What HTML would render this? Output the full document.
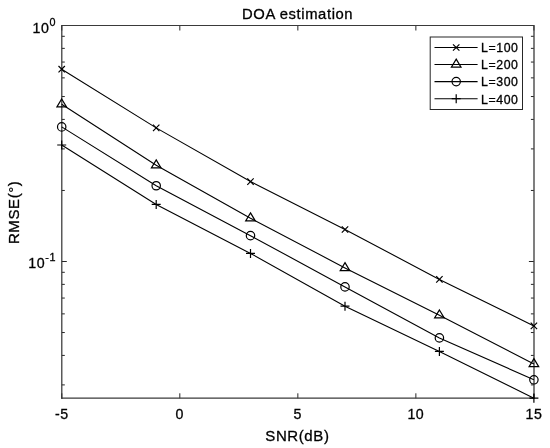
<!DOCTYPE html><html><head><meta charset="utf-8"><style>html,body{margin:0;padding:0;background:#fff;}svg{display:block;}text{font-family:"Liberation Sans",Arial,Helvetica,sans-serif;fill:#000;stroke:#000;stroke-width:0.3px;letter-spacing:0.6px;}</style></head><body>
<svg width="550" height="448" viewBox="0 0 550 448">
<rect x="0" y="0" width="550" height="448" fill="#fff"/>
<path d="M61.80 398.3V393.3M61.80 25.5V30.5M179.82 398.3V393.3M179.82 25.5V30.5M297.85 398.3V393.3M297.85 25.5V30.5M415.87 398.3V393.3M415.87 25.5V30.5M533.90 398.3V393.3M533.90 25.5V30.5M61.8 25.50H66.8M533.9 25.50H528.9M61.8 261.50H66.8M533.9 261.50H528.9M61.8 190.46H64.8M533.9 190.46H530.9M61.8 148.90H64.8M533.9 148.90H530.9M61.8 119.41H64.8M533.9 119.41H530.9M61.8 96.54H64.8M533.9 96.54H530.9M61.8 77.86H64.8M533.9 77.86H530.9M61.8 62.06H64.8M533.9 62.06H530.9M61.8 48.37H64.8M533.9 48.37H530.9M61.8 36.30H64.8M533.9 36.30H530.9M61.8 384.90H64.8M533.9 384.90H530.9M61.8 355.41H64.8M533.9 355.41H530.9M61.8 332.54H64.8M533.9 332.54H530.9M61.8 313.86H64.8M533.9 313.86H530.9M61.8 298.06H64.8M533.9 298.06H530.9M61.8 284.37H64.8M533.9 284.37H530.9M61.8 272.30H64.8M533.9 272.30H530.9" stroke="#262626" stroke-width="1" fill="none"/>
<path d="M61.8 25.5H534" stroke="#3a3a3a" stroke-width="1" fill="none"/>
<path d="M61.8 398.2H534" stroke="#3a3a3a" stroke-width="1.2" fill="none"/>
<path d="M61.8 25V399" stroke="#303030" stroke-width="1.2" fill="none"/>
<path d="M534 25V399" stroke="#3a3a3a" stroke-width="1.3" fill="none"/>
<polyline points="61.70,69.20 156.20,127.90 250.50,181.60 345.00,229.50 439.40,279.40 533.90,325.90" fill="none" stroke="#000" stroke-width="1.1"/>
<polyline points="61.70,104.30 156.20,165.20 250.50,218.20 345.00,267.90 439.40,315.30 533.90,364.00" fill="none" stroke="#000" stroke-width="1.1"/>
<polyline points="61.70,126.90 156.20,185.75 250.50,235.65 345.00,286.90 439.40,337.90 533.90,379.80" fill="none" stroke="#000" stroke-width="1.1"/>
<polyline points="61.70,145.00 156.20,204.40 250.50,253.40 345.00,306.20 439.40,351.40 533.90,398.20" fill="none" stroke="#000" stroke-width="1.1"/>
<path d="M58.50 66.00L64.90 72.40M58.50 72.40L64.90 66.00M153.00 124.70L159.40 131.10M153.00 131.10L159.40 124.70M247.30 178.40L253.70 184.80M247.30 184.80L253.70 178.40M341.80 226.30L348.20 232.70M341.80 232.70L348.20 226.30M436.20 276.20L442.60 282.60M436.20 282.60L442.60 276.20M530.70 322.70L537.10 329.10M530.70 329.10L537.10 322.70" stroke="#000" stroke-width="1.2" fill="none"/>
<path d="M61.70 98.97L66.50 106.97L56.90 106.97ZM156.20 159.87L161.00 167.87L151.40 167.87ZM250.50 212.87L255.30 220.87L245.70 220.87ZM345.00 262.57L349.80 270.57L340.20 270.57ZM439.40 309.97L444.20 317.97L434.60 317.97ZM533.90 358.67L538.70 366.67L529.10 366.67Z" stroke="#000" stroke-width="1.2" fill="none" stroke-linejoin="miter"/>
<circle cx="61.70" cy="126.90" r="4.2" stroke="#000" stroke-width="1.2" fill="none"/>
<circle cx="156.20" cy="185.75" r="4.2" stroke="#000" stroke-width="1.2" fill="none"/>
<circle cx="250.50" cy="235.65" r="4.2" stroke="#000" stroke-width="1.2" fill="none"/>
<circle cx="345.00" cy="286.90" r="4.2" stroke="#000" stroke-width="1.2" fill="none"/>
<circle cx="439.40" cy="337.90" r="4.2" stroke="#000" stroke-width="1.2" fill="none"/>
<circle cx="533.90" cy="379.80" r="4.2" stroke="#000" stroke-width="1.2" fill="none"/>
<path d="M57.20 145.00H66.20M61.70 140.50V149.50M151.70 204.40H160.70M156.20 199.90V208.90M246.00 253.40H255.00M250.50 248.90V257.90M340.50 306.20H349.50M345.00 301.70V310.70M434.90 351.40H443.90M439.40 346.90V355.90M529.40 398.20H538.40M533.90 393.70V402.70" stroke="#000" stroke-width="1.2" fill="none"/>
<rect x="430.2" y="37.0" width="92.30000000000001" height="72.5" fill="#fff" stroke="#262626" stroke-width="1"/>
<line x1="434.5" y1="47.5" x2="477.6" y2="47.5" stroke="#000" stroke-width="1.1"/>
<line x1="434.5" y1="64.5" x2="477.6" y2="64.5" stroke="#000" stroke-width="1.1"/>
<line x1="434.5" y1="81.6" x2="477.6" y2="81.6" stroke="#000" stroke-width="1.1"/>
<line x1="434.5" y1="98.7" x2="477.6" y2="98.7" stroke="#000" stroke-width="1.1"/>
<path d="M453.00 44.30L459.40 50.70M453.00 50.70L459.40 44.30M456.20 59.17L461.00 67.17L451.40 67.17ZM451.70 98.70H460.70M456.20 94.20V103.20" stroke="#000" stroke-width="1.2" fill="none"/>
<circle cx="456.2" cy="81.6" r="4.2" stroke="#000" stroke-width="1.2" fill="none"/>
<text x="481.0" y="52.30" font-size="12.3">L=100</text>
<text x="481.0" y="69.30" font-size="12.3">L=200</text>
<text x="481.0" y="86.40" font-size="12.3">L=300</text>
<text x="481.0" y="103.50" font-size="12.3">L=400</text>
<text x="61.80" y="419.3" font-size="14.2" text-anchor="middle">-5</text>
<text x="179.82" y="419.3" font-size="14.2" text-anchor="middle">0</text>
<text x="297.85" y="419.3" font-size="14.2" text-anchor="middle">5</text>
<text x="415.87" y="419.3" font-size="14.2" text-anchor="middle">10</text>
<text x="533.90" y="419.3" font-size="14.2" text-anchor="middle">15</text>
<text x="56" y="32.7" font-size="14.2" text-anchor="end">10<tspan font-size="10.8" dy="-6.9">0</tspan></text>
<text x="56.0" y="268.2" font-size="14.2" text-anchor="end">10<tspan font-size="10.8" dy="-6.8">-1</tspan></text>
<text x="297.4" y="441.0" font-size="15" text-anchor="middle">SNR(dB)</text>
<text transform="translate(19.1 212.3) rotate(-90)" font-size="15" text-anchor="middle">RMSE(°)</text>
<text x="297.6" y="18.9" font-size="14.8" letter-spacing="0.65" text-anchor="middle">DOA estimation</text>
</svg></body></html>
